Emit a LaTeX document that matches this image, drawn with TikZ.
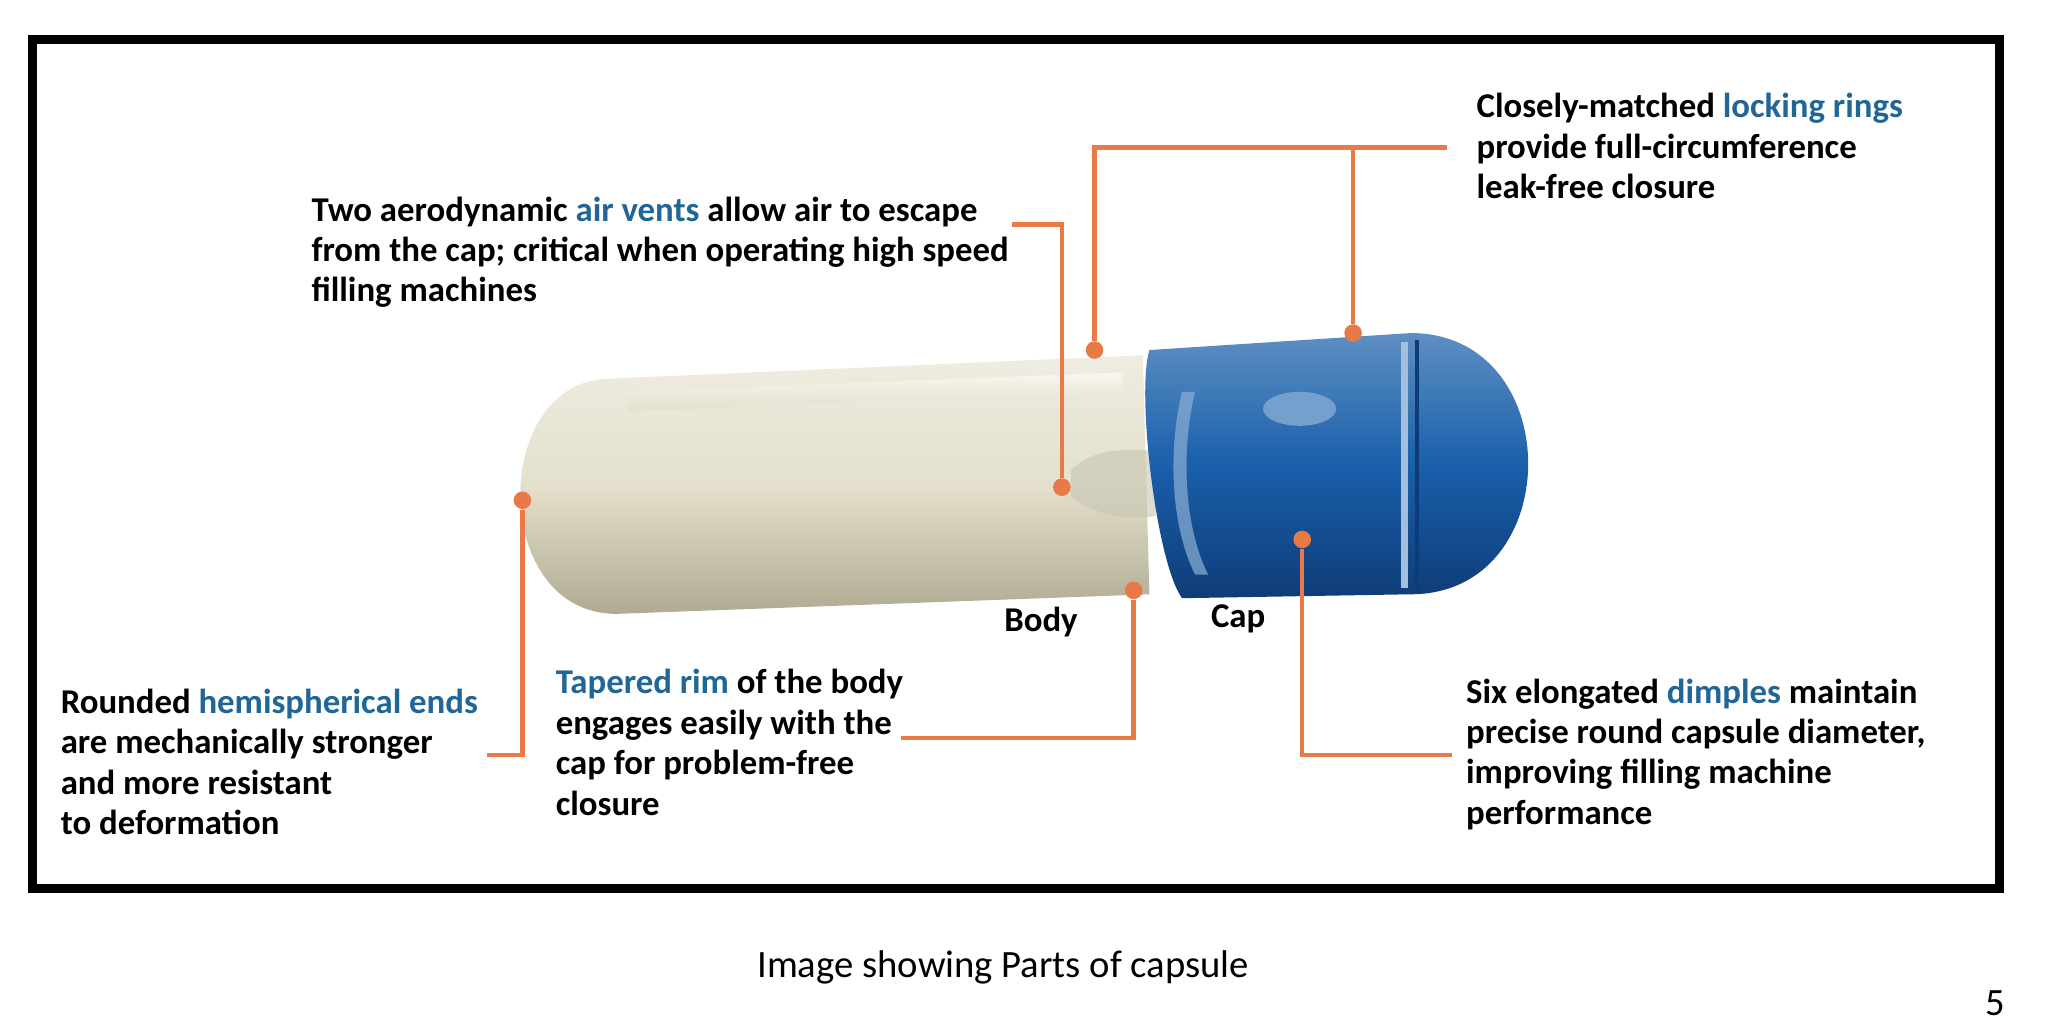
\documentclass[tikz,border=0pt]{standalone}
\usepackage{fontspec}
\setmainfont{Carlito}
\definecolor{ora}{RGB}{232,122,72}
\definecolor{blu}{RGB}{32,102,150}
\definecolor{capb}{RGB}{25,95,170}
\definecolor{capd}{RGB}{15,60,120}
\definecolor{crm}{RGB}{228,224,205}
\definecolor{crd}{RGB}{175,170,145}
\begin{document}
\begin{tikzpicture}[x=0.01306cm,y=-0.01306cm,
  lead/.style={ora,line width=1.3pt},
  dot/.style={circle,fill=ora,inner sep=0pt,minimum size=5pt},
  lbl/.style={anchor=north west,align=left,font=\fontsize{9.9}{11.5}\selectfont\bfseries,inner sep=0pt}]
\useasboundingbox (0,0) rectangle (1568,790);
\draw[line width=2.6pt] (25,30) rectangle (1531,680);
% body
\shade[top color=crm!60!white,bottom color=crd,middle color=crm]
  (875,272) -- (465,290) .. controls (375,293) and (375,470) .. (472,470) -- (880,455) -- cycle;
\shade[top color=crm!30!white,bottom color=crm] (480,300) -- (860,285) -- (860,300) -- (480,315) -- cycle;
\fill[crd!70!white,opacity=0.6] (820,360) .. controls (840,340) and (870,345) .. (885,345) -- (885,395) .. controls (860,400) and (830,390) .. (820,380) -- cycle;
% cap
\shade[top color=capb!70!white,bottom color=capd,middle color=capb]
  (880,268) -- (1080,255) .. controls (1200,255) and (1200,455) .. (1080,455) -- (905,458) .. controls (885,430) and (870,300) .. (880,268) -- cycle;
\fill[capb!50!white,opacity=0.7] (905,300) .. controls (895,340) and (895,400) .. (915,440) -- (925,440) .. controls (905,400) and (905,340) .. (915,300) -- cycle;
\draw[capb!40!white,line width=2pt] (1075,262) -- (1075,450);
\draw[capd,line width=1pt] (1085,260) -- (1085,452);
\fill[capb!60!white] (995,313) ellipse (28 and 13);
% dots
\node[dot] (d1) at (400,383) {};
\node[dot] (d2) at (813,373) {};
\node[dot] (d3) at (838,268) {};
\node[dot] (d4) at (1036,255) {};
\node[dot] (d5) at (868,452) {};
\node[dot] (d6) at (997,413) {};
\coordinate (c1) at (373,578);
\coordinate (c2) at (775,172);
\coordinate (c3) at (1108,113);
\coordinate (c5) at (690,565);
\coordinate (c6) at (1112,578);
\draw[lead] (c1) -| (d1);
\draw[lead] (c2) -| (d2);
\draw[lead] (c3) -| (d3);
\draw[lead] (1036,113) -- (d4);
\draw[lead] (c5) -| (d5);
\draw[lead] (d6) |- (c6);
% texts
\node[lbl] (t1) at (238,150) {Two aerodynamic \textcolor{blu}{air vents} allow air to escape\\from the cap; critical when operating high speed\\filling machines};
\node[lbl] (t2) at (1130,71) {Closely-matched \textcolor{blu}{locking rings}\\provide full-circumference\\leak-free closure};
\node[lbl] (t3) at (46,527) {Rounded \textcolor{blu}{hemispherical ends}\\are mechanically stronger\\and more resistant\\to deformation};
\node[lbl] (t4) at (425,512) {\textcolor{blu}{Tapered rim} of the body\\engages easily with the\\cap for problem-free\\closure};
\node[lbl] (t5) at (1122,519) {Six elongated \textcolor{blu}{dimples} maintain\\precise round capsule diameter,\\improving filling machine\\performance};
\node[font=\fontsize{9.9}{11.5}\selectfont\bfseries] (b) at (797,476) {Body};
\node[font=\fontsize{9.9}{11.5}\selectfont\bfseries] (c) at (948,474) {Cap};
\node[font=\fontsize{11}{13}\selectfont] (cap) at (768,741) {Image showing Parts of capsule};
\node[font=\fontsize{11}{13}\selectfont] (n) at (1528,768) {5};
\end{tikzpicture}
\end{document}
